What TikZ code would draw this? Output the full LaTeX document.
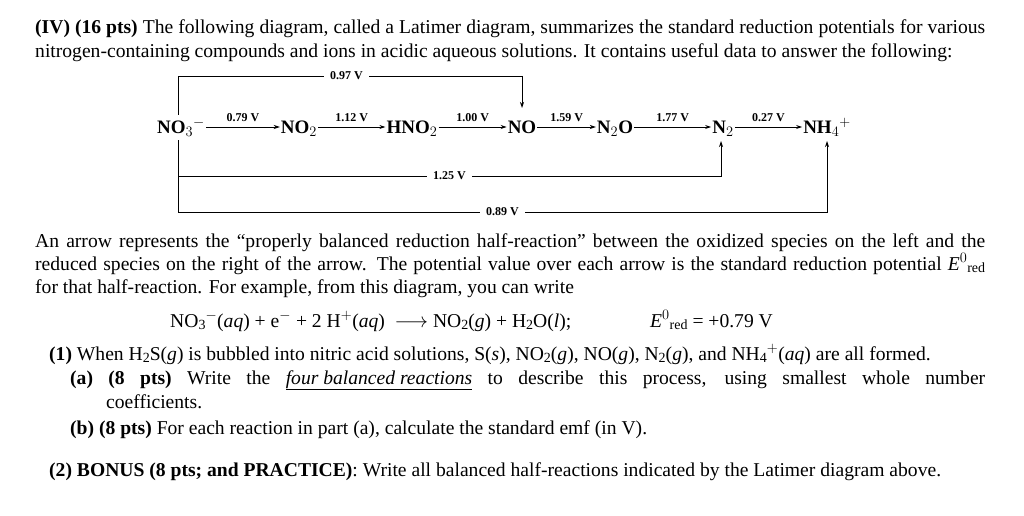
\documentclass[tikz,border=0pt]{standalone}
\usetikzlibrary{arrows.meta}
\usepackage{fontspec}
\setmainfont{Liberation Serif}
\begin{document}
\begin{tikzpicture}[x=1pt,y=-1pt,
  txt/.style={anchor=base west,inner sep=0,font=\fontsize{19.6}{22}\selectfont},
  sp/.style={anchor=base,inner sep=0,font=\fontsize{19}{20}\selectfont\bfseries},
  lab/.style={inner sep=0,font=\fontsize{12}{12}\selectfont\bfseries,fill=white,inner xsep=6pt},
  ar/.style={-{Stealth[length=6pt,width=4pt]},line width=0.8pt},
  ln/.style={line width=0.8pt}]
\useasboundingbox (0,0) rectangle (1024,516);
\newcommand{\jl}[2]{\makebox[#1][s]{#2}}
\newcommand{\sbs}[1]{\raisebox{-2.5pt}{\fontsize{14}{14}\selectfont #1}}
\node[txt] (l1) at (35,34) {\jl{950pt}{\textbf{(IV) (16 pts)} The following diagram, called a Latimer diagram, summarizes the standard reduction potentials for various}};
\node[txt] (l2) at (35,58) {nitrogen-containing compounds and ions in acidic aqueous solutions. It contains useful data to answer the following:};
% species
\node[sp] (a) at (181,133) {NO$_3$$^{-}$};
\node[sp] (b) at (299,133) {NO$_2$};
\node[sp] (c) at (412,133) {HNO$_2$};
\node[sp] (d) at (522,133) {NO};
\node[sp] (e) at (615,133) {N$_2$O};
\node[sp] (f) at (723,133) {N$_2$};
\node[sp] (g) at (827,133) {NH$_4$$^{+}$};
\foreach \u/\v/\t in {a/b/0.79,b/c/1.12,c/d/1.00,d/e/1.59,e/f/1.77,f/g/0.27}{
  \draw[ar] ([xshift=1pt,yshift=6pt]\u.base east) -- node[lab,above=5pt,fill=none] {\t\ V} ([xshift=-1pt,yshift=6pt]\v.base west);
}
\coordinate (t1) at (178,76);
\draw[ln] (178,115) -- (t1) -- node[lab,pos=0.49] {0.97 V} (522,76);
\draw[ar] (522,76) -- (522,108);
\draw[ln] (178,140) -- (178,212);
\draw[ar] (178,176) -- node[lab] {1.25 V} (721,176) -- (721,141);
\draw[ar] (178,212) -- node[lab] {0.89 V} (827,212) -- (827,141);
% paragraph
\node[txt] (p1) at (35,247) {\jl{950pt}{An arrow represents the ``properly balanced reduction half-reaction'' between the oxidized species on the left and the}};
\node[txt] (p2) at (35,270) {\jl{950pt}{reduced species on the right of the arrow. The potential value over each arrow is the standard reduction potential \textit{E}$^{0}$\sbs{red}}};
\node[txt] (p3) at (35,293) {for that half-reaction. For example, from this diagram, you can write};
\node[txt] (eq) at (170,327) {NO\sbs{3}$^{-}$(\textit{aq}) + e$^{-}$ + 2 H$^{+}$(\textit{aq}) \ $\longrightarrow$ NO\sbs{2}(\textit{g}) + H\sbs{2}O(\textit{l});};
\node[txt] (eq2) at (650,327) {\textit{E}$^{0}$\sbs{red} = +0.79 V};
\node[txt] (q1) at (49,360) {\textbf{(1)} When H\sbs{2}S(\textit{g}) is bubbled into nitric acid solutions, S(\textit{s}), NO\sbs{2}(\textit{g}), NO(\textit{g}), N\sbs{2}(\textit{g}), and NH\sbs{4}$^{+}$(\textit{aq}) are all formed.};
\node[txt] (qa) at (70,384) {\jl{915pt}{\textbf{(a) (8 pts)} Write the \underline{\textit{four balanced reactions}} to describe this process, using smallest whole number}};
\node[txt] (qa2) at (106,408) {coefficients.};
\node[txt] (qb) at (70,434) {\textbf{(b) (8 pts)} For each reaction in part (a), calculate the standard emf (in V).};
\node[txt] (q2) at (49,476) {\textbf{(2) BONUS (8 pts; and PRACTICE)}: Write all balanced half-reactions indicated by the Latimer diagram above.};
\end{tikzpicture}
\end{document}
